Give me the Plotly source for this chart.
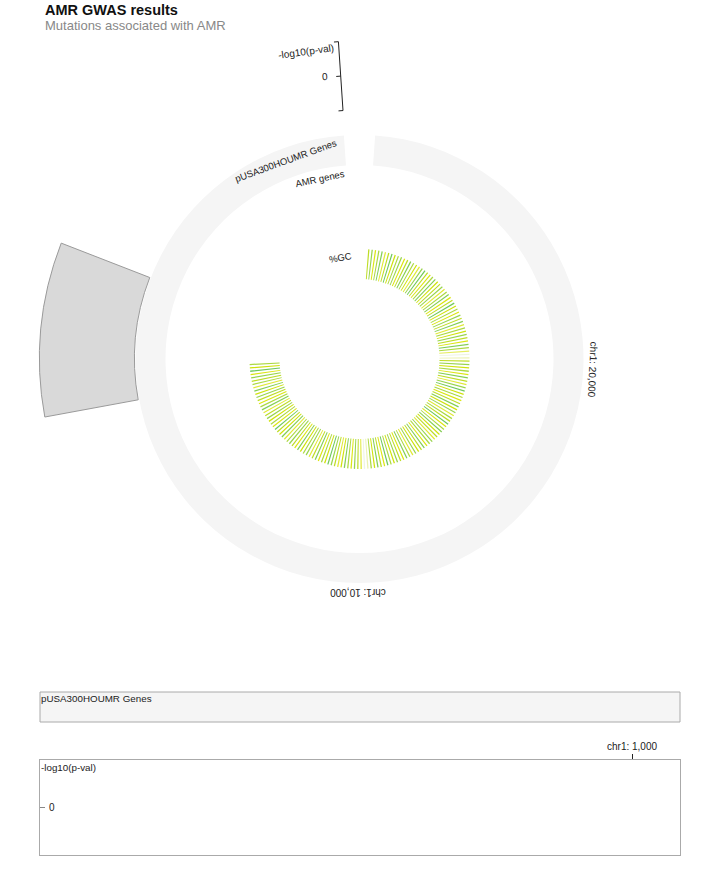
import math
import plotly.graph_objects as go

# ---------------- data ----------------
title_text = "AMR GWAS results"
subtitle_text = "Mutations associated with AMR"

genome_len = 20000          # bp shown on the circular track
ring_start_deg = 4.0        # start angle of the chromosome arc
ring_span_deg = 352.0       # angular span of the chromosome arc

gc_window = 100             # bp per GC window
gc_values = [
    33, 35, 31, 34, 36, 30, 33, 37, 32, 34,
    35, 31, 33, 36, 34, 32, 30, 35, 37, 33,
    31, 34, 36, 32, 33, 35, 30, 34, 36, 31,
    33, 37, 32, 34, 31, 35, 33, 36, 30, 34,
    32, 35, 33, 31, 36, 34, 29, 26, 27, 33,
    35, 32, 34, 31, 36, 33, 30, 35, 37, 32,
    34, 31, 33, 36, 32, 35, 30, 34, 33, 37,
    31, 34, 36, 32, 33, 30, 35, 34, 31, 36,
    33, 32, 35, 30, 34, 36, 31, 33, 35, 32,
    34, 37, 31, 33, 36, 32, 34, 27, 26, 30,
    33, 35, 31, 34, 36, 32, 30, 33, 35, 37,
    32, 34, 31, 36, 33, 30, 35, 34, 32, 36,
    31, 33, 35, 34, 30, 36, 32, 33, 37, 31,
    34, 32, 35, 33, 30, 36, 34, 31, 33, 35,
    32, 36, 30, 34, 33, 35, 31, 37, 32, 34,
]

# highlighted region in the -log10(p-val) track (bp)
hit_start = 14520
hit_end = 16320

# circular tick labels
tick_labels = ["chr1: 20,000", "chr1: 10,000"]
tick_angles = [92.7, 180.4]

# linear view
linear_len = 1081
linear_tick_vals = [1000]
linear_tick_text = ["chr1: 1,000"]
pval_tick_vals = [0]
pval_tick_text = ["0"]

# ---------------- geometry ----------------
W, H = 714, 878
CX, CY = 359.5, 359.0        # polar centre in pixels
RMAX = 330.0                 # pixel radius of the polar area

R_GENES_IN, R_GENES_OUT = 194, 224
R_HIT_IN, R_HIT_OUT = 225, 320
R_GC_IN, R_GC_OUT = 80, 110
R_P_LO, R_P_HI = 249, 318
AXIS_DEG = 356.2

FONT = "Liberation Sans, Arial, sans-serif"


def bp2deg(bp):
    return ring_start_deg + bp / genome_len * ring_span_deg


def pol2paper(r, deg):
    a = math.radians(deg)
    px = CX + r * math.sin(a)
    py = CY - r * math.cos(a)
    return px / W, 1 - py / H


fig = go.Figure()

# genes ring (background)
fig.add_trace(go.Barpolar(
    r=[R_GENES_OUT - R_GENES_IN], base=[R_GENES_IN],
    theta=[ring_start_deg + ring_span_deg / 2], width=[ring_span_deg],
    marker=dict(color="#f5f5f5", line=dict(width=0)),
    hoverinfo="skip", showlegend=False,
))

# highlighted region
fig.add_trace(go.Barpolar(
    r=[R_HIT_OUT - R_HIT_IN], base=[R_HIT_IN],
    theta=[(bp2deg(hit_start) + bp2deg(hit_end)) / 2],
    width=[bp2deg(hit_end) - bp2deg(hit_start)],
    marker=dict(color="#d9d9d9", line=dict(color="#9a9a9a", width=1)),
    hoverinfo="skip", showlegend=False,
))

# GC track
gc_theta = [bp2deg(i * gc_window + gc_window / 2) for i in range(len(gc_values))]
gc_width = gc_window / genome_len * ring_span_deg * 0.38
fig.add_trace(go.Barpolar(
    r=[R_GC_OUT - R_GC_IN] * len(gc_values), base=[R_GC_IN] * len(gc_values),
    theta=gc_theta, width=[gc_width] * len(gc_values),
    marker=dict(
        color=gc_values, cmin=26, cmax=37, showscale=False,
        colorscale=[[0, "#eef5e0"], [0.3, "#e4ec50"], [0.5, "#d8e400"],
                    [0.75, "#a8d848"], [1, "#70c85c"]],
        line=dict(width=0),
    ),
    hoverinfo="skip", showlegend=False,
))

# -log10(p-val) axis bracket
fig.add_trace(go.Scatterpolar(
    r=[R_P_LO, R_P_HI], theta=[AXIS_DEG, AXIS_DEG], mode="lines",
    line=dict(color="#222", width=1), hoverinfo="skip", showlegend=False,
))
for rr in [R_P_LO, (R_P_LO + R_P_HI) / 2, R_P_HI]:
    d = math.degrees(4.5 / rr)
    fig.add_trace(go.Scatterpolar(
        r=[rr, rr], theta=[AXIS_DEG, AXIS_DEG - d], mode="lines",
        line=dict(color="#222", width=1), hoverinfo="skip", showlegend=False,
    ))

# linear view traces (invisible anchors)
fig.add_trace(go.Scatter(x=[0, linear_len], y=[0, 1], mode="markers",
                         marker=dict(opacity=0), xaxis="x", yaxis="y",
                         hoverinfo="skip", showlegend=False))
fig.add_trace(go.Scatter(x=[0, linear_len], y=[-1, 1], mode="markers",
                         marker=dict(opacity=0), xaxis="x2", yaxis="y2",
                         hoverinfo="skip", showlegend=False))

annotations = []


def add_polar_text(text, r, deg, angle, size=9.5):
    x, y = pol2paper(r, deg)
    annotations.append(dict(
        text=text, x=x, y=y, xref="paper", yref="paper", showarrow=False,
        textangle=angle, font=dict(family=FONT, size=size, color="#222"),
        xanchor="center", yanchor="middle",
    ))


add_polar_text("pUSA300HOUMR Genes", 212, -20.3, -20)
add_polar_text("AMR genes", 185, -12.3, -12)
add_polar_text("%GC", 103, -10.4, -10)
add_polar_text("-log10(p-val)", 312.6, -9.9, -8, size=10)
add_polar_text("0", 285, -6.9, -4, size=10)
for lab, ang in zip(tick_labels, tick_angles):
    add_polar_text(lab, 233, ang, ang if ang < 150 else 180, size=10)

# title / subtitle
annotations.append(dict(text="<b>" + title_text + "</b>", x=43 / W, y=1 - 0 / H,
                        xref="paper", yref="paper", xanchor="left", yanchor="top",
                        showarrow=False, font=dict(family=FONT, size=14.5, color="#111")))
annotations.append(dict(text=subtitle_text, x=43 / W, y=1 - 16 / H,
                        xref="paper", yref="paper", xanchor="left", yanchor="top",
                        showarrow=False, font=dict(family=FONT, size=13, color="#888")))

# linear panel labels
annotations.append(dict(text="pUSA300HOUMR Genes", x=-0.002, y=1.02, xref="x domain", yref="y domain",
                        xanchor="left", yanchor="top", showarrow=False,
                        font=dict(family=FONT, size=9.8, color="#222")))
annotations.append(dict(text="-log10(p-val)", x=-0.002, y=1.005, xref="x2 domain", yref="y2 domain",
                        xanchor="left", yanchor="top", showarrow=False,
                        font=dict(family=FONT, size=9.8, color="#222")))

shapes = [dict(type="rect", xref="x domain", yref="y domain", x0=0, x1=1, y0=0, y1=1,
               fillcolor="#f5f5f5", line=dict(color="#aaaaaa", width=1), layer="below")]

fig.update_layout(
    width=W, height=H, margin=dict(l=0, r=0, t=0, b=0),
    paper_bgcolor="white", plot_bgcolor="rgba(0,0,0,0)",
    polar=dict(
        domain=dict(x=[(CX - RMAX) / W, (CX + RMAX) / W],
                    y=[1 - (CY + RMAX) / H, 1 - (CY - RMAX) / H]),
        bgcolor="rgba(0,0,0,0)", barmode="overlay", hole=0,
        radialaxis=dict(range=[0, RMAX], visible=False, showgrid=False, showline=False,
                        showticklabels=False, ticks=""),
        angularaxis=dict(direction="clockwise", rotation=90, showgrid=False,
                         showline=False, showticklabels=False, ticks=""),
    ),
    xaxis=dict(domain=[40 / W, 680 / W], range=[0, linear_len], anchor="y",
               showgrid=False, zeroline=False, showticklabels=False, ticks=""),
    yaxis=dict(domain=[1 - 722 / H, 1 - 692 / H], range=[0, 1], anchor="x",
               showgrid=False, zeroline=False, showticklabels=False, ticks=""),
    xaxis2=dict(domain=[40 / W, 680 / W], range=[0, linear_len], anchor="y2",
                side="top", showgrid=False, zeroline=False,
                tickvals=linear_tick_vals, ticktext=linear_tick_text,
                ticks="outside", ticklen=5, tickcolor="#222",
                tickfont=dict(family=FONT, size=10, color="#222"),
                showline=True, mirror=True, linecolor="#aaaaaa", linewidth=1),
    yaxis2=dict(domain=[1 - 855 / H, 1 - 760 / H], range=[-1, 1], anchor="x2",
                showgrid=False, zeroline=False,
                tickvals=pval_tick_vals, ticktext=pval_tick_text,
                ticks="inside", ticklen=5, tickcolor="#888",
                ticklabelposition="inside", ticklabelstandoff=3,
                tickfont=dict(family=FONT, size=10, color="#222"),
                showline=True, mirror=True, linecolor="#aaaaaa", linewidth=1),
    shapes=shapes,
    annotations=annotations,
)

fig.write_html("out.html", config={"displayModeBar": False},
               post_script="document.body.style.margin='0px';")
